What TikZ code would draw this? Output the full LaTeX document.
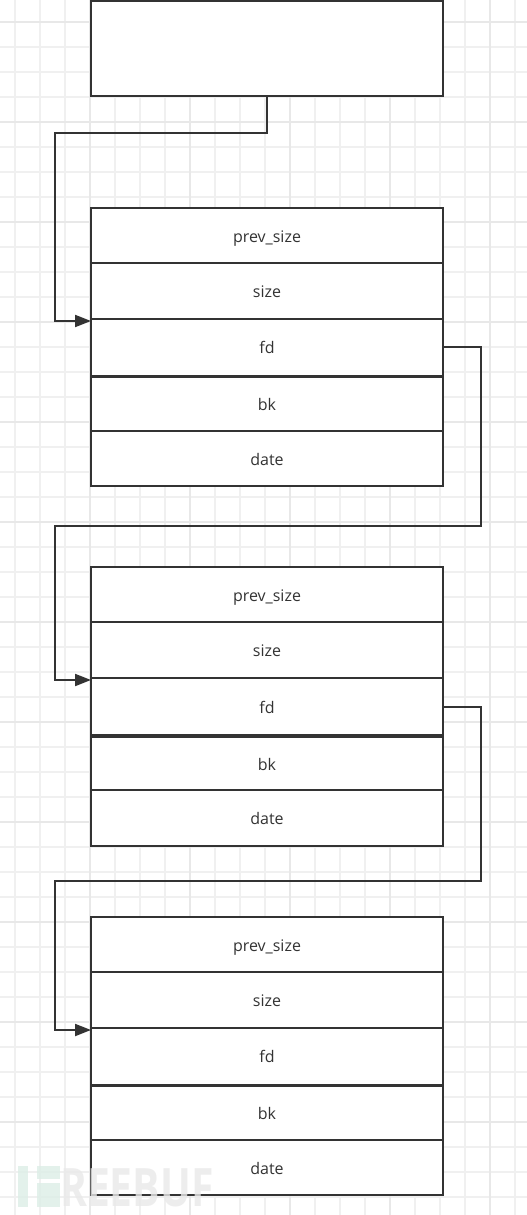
\documentclass[tikz,border=0pt]{standalone}
\usepackage{fontspec}
\setmainfont{Open Sans}
\usetikzlibrary{arrows.meta,calc}
\definecolor{linec}{HTML}{333333}
\definecolor{textc}{HTML}{333333}
\definecolor{gridminor}{HTML}{F0F0F0}
\definecolor{gridmajor}{HTML}{E8E8E8}
\definecolor{wmgreen}{HTML}{DCEEE6}
\definecolor{wmgray}{HTML}{E9E9E9}
\begin{document}
\begin{tikzpicture}[x=1pt,y=-1pt,
  cell/.style={draw=linec, line width=2pt, fill=white, minimum width=352pt,
    inner sep=0pt, outer sep=0pt, anchor=north west, text=textc,
    text height=14pt, text depth=1pt,
    font=\fontsize{16}{19}\selectfont},
  conn/.style={draw=linec, line width=2pt, -{Triangle[length=16pt,width=12pt]}},
  minorline/.style={draw=gridminor, line width=1.5pt},
  majorline/.style={draw=gridmajor, line width=1.5pt},
  wmblock/.style={fill=wmgreen, opacity=0.8}]
\useasboundingbox (0,0) rectangle (527,1215);
\fill[white] (0,0) rectangle (527,1215);
% grid
\foreach \x in {15,40,...,515} \draw[minorline] (\x,0) -- (\x,1215);
\foreach \y in {22,47,...,1215} \draw[minorline] (0,\y) -- (527,\y);
\foreach \x in {90,190,...,490} \draw[majorline] (\x,0) -- (\x,1215);
\foreach \y in {22,122,...,1215} \draw[majorline] (0,\y) -- (527,\y);
% top box
\node[cell, minimum height=95pt] (top) at (91,1) {};
% chunk 1
\node[cell, minimum height=55pt] (p1) at (91,208) {prev\_size};
\node[cell, minimum height=56pt] (s1) at (91,263) {size};
\node[cell, minimum height=56.5pt] (f1) at (91,319) {fd};
\node[cell, minimum height=54pt] (b1) at (91,377) {bk};
\node[cell, minimum height=55pt] (d1) at (91,431) {date};
% chunk 2
\node[cell, minimum height=55pt] (p2) at (91,567) {prev\_size};
\node[cell, minimum height=56pt] (s2) at (91,622) {size};
\node[cell, minimum height=57pt] (f2) at (91,678) {fd};
\node[cell, minimum height=53pt] (b2) at (91,737) {bk};
\node[cell, minimum height=56pt] (d2) at (91,790) {date};
% chunk 3
\node[cell, minimum height=55pt] (p3) at (91,917) {prev\_size};
\node[cell, minimum height=56pt] (s3) at (91,972) {size};
\node[cell, minimum height=56.5pt] (f3) at (91,1028) {fd};
\node[cell, minimum height=54pt] (b3) at (91,1086) {bk};
\node[cell, minimum height=55pt] (d3) at (91,1140) {date};
% connector points
\coordinate (j1) at (55,133);
\coordinate (a1) at ($(f1.north west)+(0,2)$);
\coordinate (r1) at (481,526);
\coordinate (j2) at (55,526);
\coordinate (a2) at ($(f2.north west)+(0,2)$);
\coordinate (r2) at (481,881);
\coordinate (j3) at (55,881);
\coordinate (a3) at ($(f3.north west)+(0,2)$);
% connectors
\draw[conn] (top.south) |- (j1) |- (a1);
\draw[conn] (f1.east) -| (r1) -- (j2) |- (a2);
\draw[conn] (f2.east) -| (r2) -- (j3) |- (a3);
% watermark
\fill[wmblock] (18,1166) rectangle (28,1207);
\fill[wmblock] (37,1166) rectangle (60,1179);
\fill[wmblock] (37,1183) rectangle (60,1207);
\node[anchor=south west, inner sep=0pt, xscale=0.77, text=wmgray, opacity=0.8,
  font=\bfseries\fontsize{53}{53}\selectfont] (wm) at (60,1207) {REEBUF};
\end{tikzpicture}
\end{document}
